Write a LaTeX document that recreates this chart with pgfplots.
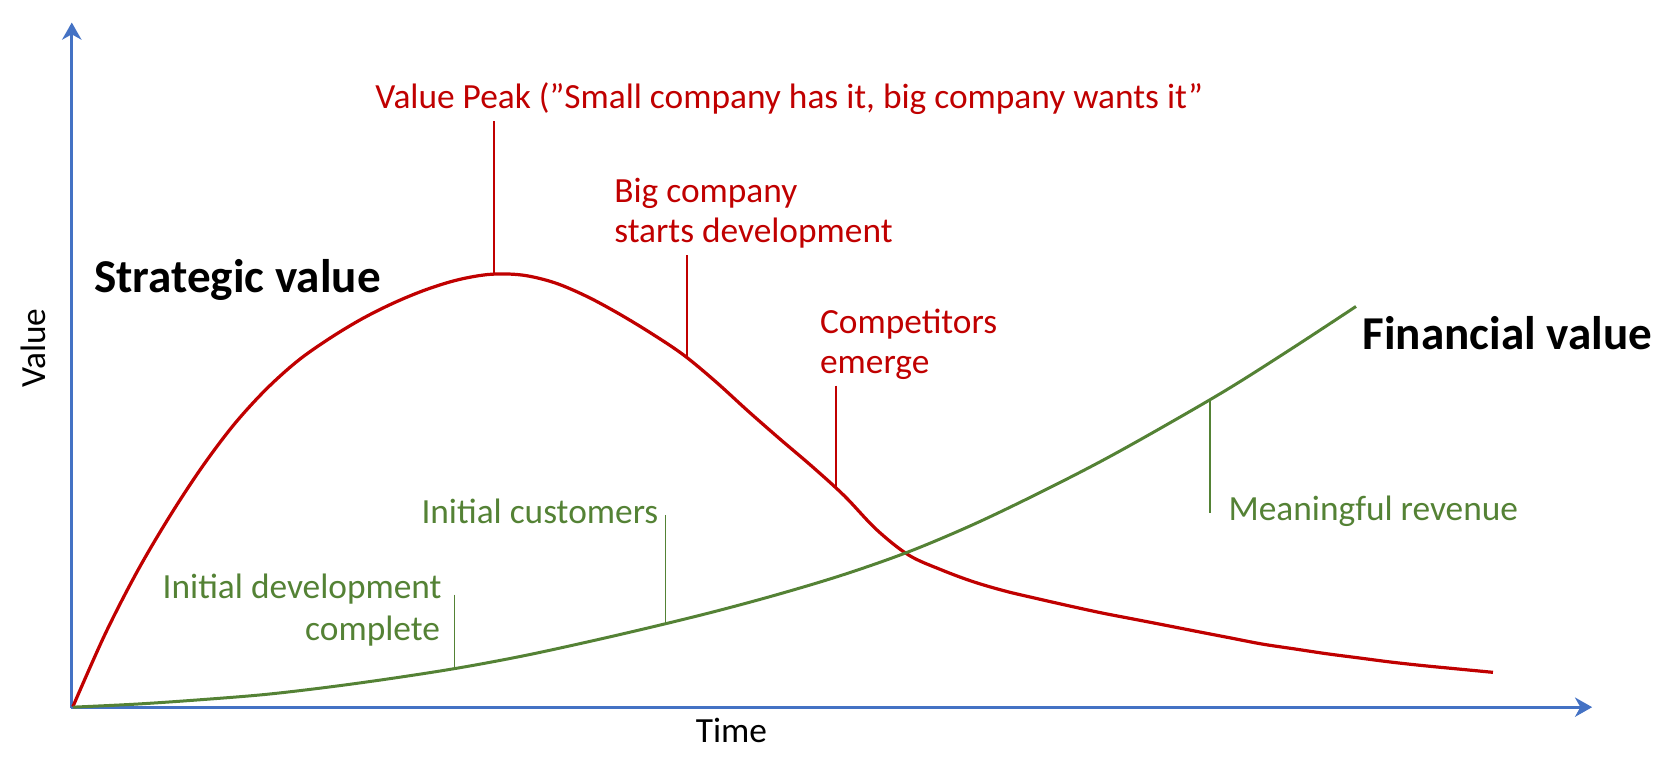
\documentclass[border=0pt]{standalone}
\usepackage{pgfplots}
\pgfplotsset{compat=1.18}
\usepackage{fontspec}
\setmainfont{Carlito}
\usetikzlibrary{arrows.meta}
\definecolor{cred}{HTML}{C00000}
\definecolor{cgreen}{HTML}{548235}
\definecolor{cblue}{HTML}{4472C4}
\begin{document}
\begin{tikzpicture}
\begin{axis}[
  width=784pt, height=360pt, scale only axis,
  xmin=0, xmax=1568, ymin=0, ymax=720, y dir=reverse,
  hide axis, clip=false,
]
\path (axis cs:0,0) rectangle (axis cs:1568,720);
% axes
\draw[cblue, line width=1.5pt, -{Stealth[length=8pt,width=9pt,inset=2.5pt]}] (axis cs:67,661) -- (axis cs:67,21);
\draw[cblue, line width=1.5pt, -{Stealth[length=8pt,width=9pt,inset=2.5pt]}] (axis cs:66,660) -- (axis cs:1486,660);
% strategic value
\addplot[cred, line width=1.5pt, smooth, tension=0.55] coordinates {
(68,659.6) (98,592) (128,533.5) (158,482.5) (188,436.7) (218,396.7) (248,363.7)
(278,336.7) (308,315.6) (338,297.5) (368,282.5) (398,270.2) (428,261) (458,256)
(488,256.8) (518,264) (548,276.8) (578,293) (608,311.2) (638,331.3) (668,356.2)
(698,383.5) (728,409.8) (758,435.4) (788,462.7) (818,494.2) (848,518) (878,531.6)
(908,542.8) (938,551.6) (968,558.7) (998,565.5) (1028,572) (1058,577.8) (1088,583.6)
(1118,589.5) (1148,595.3) (1178,601.1) (1208,605.6) (1238,610.1) (1268,614)
(1298,617.9) (1328,621.2) (1358,624.1) (1393.4,627.5)
};
% financial value
\addplot[cgreen, line width=1.4pt, smooth, tension=0.55] coordinates {
(68,660) (128,657.1) (188,653) (248,648.1) (308,641.1) (368,632.8) (428,623.4)
(488,612.2) (548,599.2) (608,585.3) (668,570.5) (728,554.2) (788,536.1) (848,515)
(908,489.7) (968,461) (1028,430.3) (1088,396.9) (1148,361.9) (1208,323.8) (1265.6,286)
};
% annotation lines
\draw[cred, line width=0.8pt] (axis cs:461,113) -- (axis cs:461,256);
\draw[cred, line width=0.8pt] (axis cs:641,238) -- (axis cs:641,334);
\draw[cred, line width=0.8pt] (axis cs:780.5,360) -- (axis cs:780.5,456);
\draw[cgreen, line width=0.8pt] (axis cs:424.3,555) -- (axis cs:424.3,624);
\draw[cgreen, line width=0.8pt] (axis cs:621,480.5) -- (axis cs:621,582);
\draw[cgreen, line width=0.8pt] (axis cs:1129.5,373) -- (axis cs:1129.5,479);
% texts
\node[cred, font=\fontsize{16.5}{18}\selectfont, inner sep=0pt, anchor=base west] at (axis cs:350,101) {Value Peak (”Small company has it, big company wants it”};
\node[cred, font=\fontsize{16.5}{18}\selectfont, inner sep=0pt, anchor=base west] at (axis cs:573,189.4) {Big company};
\node[cred, font=\fontsize{16.5}{18}\selectfont, inner sep=0pt, anchor=base west] at (axis cs:573,226) {starts development};
\node[cred, font=\fontsize{16.5}{18}\selectfont, inner sep=0pt, anchor=base west] at (axis cs:765,311.7) {Competitors};
\node[cred, font=\fontsize{16.5}{18}\selectfont, inner sep=0pt, anchor=base west] at (axis cs:765,349) {emerge};
\node[cgreen, font=\fontsize{16.5}{18}\selectfont, inner sep=0pt, anchor=base west] at (axis cs:393,488.7) {Initial customers};
\node[cgreen, font=\fontsize{16.5}{18}\selectfont, inner sep=0pt, anchor=base east] at (axis cs:412.5,558.6) {Initial development};
\node[cgreen, font=\fontsize{16.5}{18}\selectfont, inner sep=0pt, anchor=base east] at (axis cs:411,597.7) {complete};
\node[cgreen, font=\fontsize{16.5}{18}\selectfont, inner sep=0pt, anchor=base west] at (axis cs:1146.3,486) {Meaningful revenue};
\node[black, font=\fontsize{22}{26}\selectfont\bfseries, inner sep=0pt, anchor=base west] at (axis cs:87.5,272.6) {Strategic value};
\node[black, font=\fontsize{22}{26}\selectfont\bfseries, inner sep=0pt, anchor=base west] at (axis cs:1271.3,326.4) {Financial value};
\node[black, font=\fontsize{16.5}{18}\selectfont, inner sep=0pt, anchor=base west] at (axis cs:649,693) {Time};
\node[black, font=\fontsize{16.5}{18}\selectfont, inner sep=0pt, anchor=south, rotate=90] at (axis cs:43.5,325) {Value};
\end{axis}
\end{tikzpicture}
\end{document}
